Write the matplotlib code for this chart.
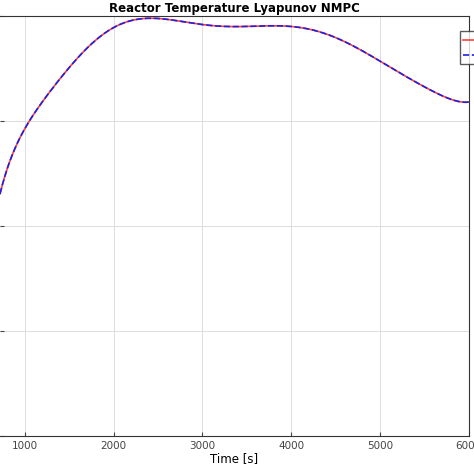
import matplotlib
matplotlib.use("Agg")
import matplotlib.pyplot as plt
import numpy as np

time_s = [720, 850, 1000, 1250, 1500, 1750, 2000, 2250, 2500, 2750, 3000, 3500, 4000, 4250, 4500, 4750, 5000, 5250, 5500, 5750, 6000]
temp = [2.31, 2.65, 2.94, 3.25, 3.49, 3.74, 3.91, 3.96, 3.97, 3.95, 3.92, 3.91, 3.90, 3.86, 3.79, 3.70, 3.58, 3.44, 3.32, 3.23, 3.18]
x_ticks = [1000, 2000, 3000, 4000, 5000, 6000]
y_ticks = [0, 1, 2, 3, 4]

# smooth curve through the read points
t = np.linspace(time_s[0], time_s[-1], 600)
u = (np.array(time_s) - 3360) / 2640
coef = np.polyfit(u, temp, 9)
y = np.polyval(coef, (t - 3360) / 2640)

fig = plt.figure(figsize=(4.74, 4.74), dpi=100)
ax = fig.add_axes([0.0, 0.08, 0.989, 0.886])
ax.plot(t, y, color="#ff4040", lw=1.2, label="Reference")
ax.plot(t, y, color="#2020e0", lw=1.2, ls="--", label="Output")
ax.set_xlim(720, 6000)
ax.set_ylim(0, 4)
ax.set_xticks(x_ticks)
ax.set_yticks(y_ticks)
ax.set_yticklabels([])
ax.tick_params(labelsize=7.5, direction="in", length=3, colors="#444444")
ax.grid(color="#dddddd", lw=0.7)
for s in ax.spines.values():
    s.set_color("#333333")
ax.spines["left"].set_visible(False)
ax.set_xlabel("Time [s]", fontsize=8.5, labelpad=1)
ax.set_title("Reactor Temperature Lyapunov NMPC", fontsize=8.5, fontweight="bold", pad=3)
ax.legend(loc="upper left", bbox_to_anchor=(0.97, 0.975), fontsize=7, handlelength=1.5, fancybox=False, edgecolor="#333333")

fig.savefig("out.png", dpi=100)
